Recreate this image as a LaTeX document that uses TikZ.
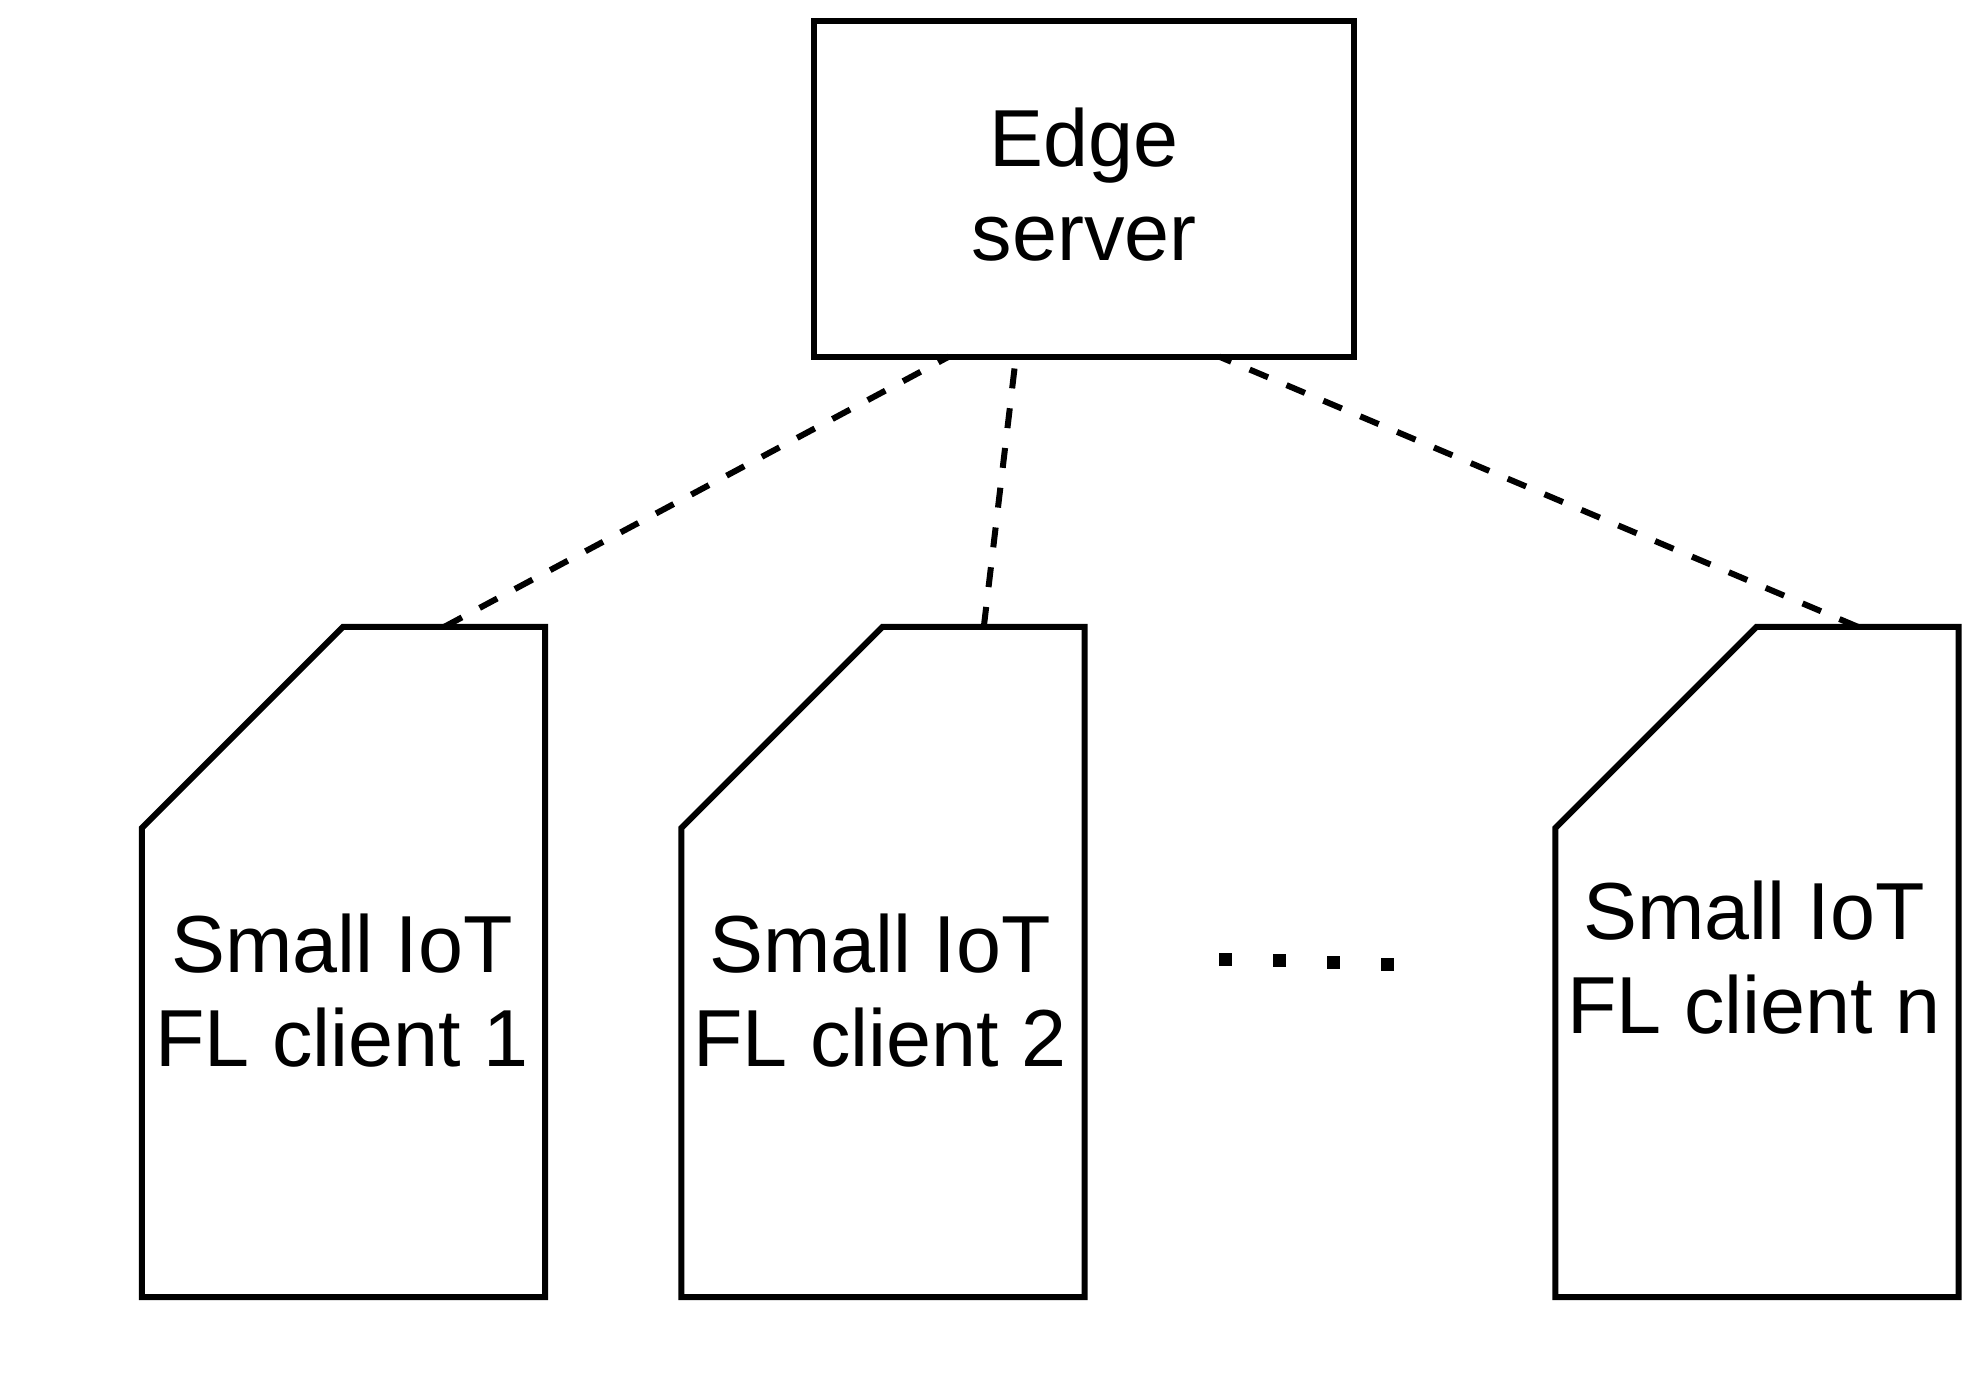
\documentclass[tikz,border=0pt]{standalone}
\usepackage{fontspec}
\setmainfont{Liberation Sans}
\usetikzlibrary{calc}
\tikzset{
  lw/.style={line width=0.06cm},
  serverbox/.style={draw, lw, minimum width=5.40cm, minimum height=3.35cm, inner sep=0, outer sep=0},
  clientarea/.style={draw=none, minimum width=4.03cm, minimum height=6.70cm, inner sep=0, outer sep=0},
  cardline/.style={draw, lw, line join=miter},
  lbl/.style={font=\fontsize{23}{26.7}\selectfont, align=center, inner sep=0, outer sep=0},
  dashline/.style={lw, dash pattern=on 0.2cm off 0.2cm},
  dotsq/.style={fill=black}
}
\newcommand\cardoutline[1]{%
  \draw[cardline] ($(#1.north west)+(2.01cm,0)$) -- (#1.north east) -- (#1.south east) -- (#1.south west) -- ($(#1.north west)+(0,-2.01cm)$) -- cycle;}
\begin{document}
\begin{tikzpicture}[x=0.01cm, y=-0.01cm]
\useasboundingbox (0,0) rectangle (1980,1381);
% server
\node[serverbox] (edge) at (1084,189) {};
\node[lbl, anchor=base] (edgetxt) at (1084,260) {Edge\\server};
% clients
\node[clientarea] (c1) at (343.5,962) {};
\node[clientarea] (c2) at (883,962) {};
\node[clientarea] (cn) at (1757,962) {};
\cardoutline{c1}
\cardoutline{c2}
\cardoutline{cn}
\node[lbl, anchor=base] (t1) at (342,1066) {Small IoT\\FL client 1};
\node[lbl, anchor=base] (t2) at (880,1066) {Small IoT\\FL client 2};
\node[lbl, anchor=base] (tn) at (1754,1033) {Small IoT\\FL client n};
% connectors
\coordinate (e1) at ($(edge.south west)!0.25!(edge.south east)$);
\coordinate (e2) at ($(edge.south west)!0.374!(edge.south east)$);
\coordinate (e3) at ($(edge.south west)!0.75!(edge.south east)$);
\coordinate (k1) at ($(c1.north)!0.5!(c1.north east)$);
\coordinate (k2) at ($(c2.north)!0.5!(c2.north east)$);
\coordinate (kn) at ($(cn.north)!0.5!(cn.north east)$);
\draw[dashline] (k1) -- (e1);
\draw[dashline] (k2) -- (e2);
\draw[dashline] (kn) -- (e3);
% dots
\foreach \px/\py in {1225/959,1279/960,1333/962,1387/964}
  \fill[dotsq] (\px-6.5,\py-6.5) rectangle ++(13,13);
\end{tikzpicture}
\end{document}
